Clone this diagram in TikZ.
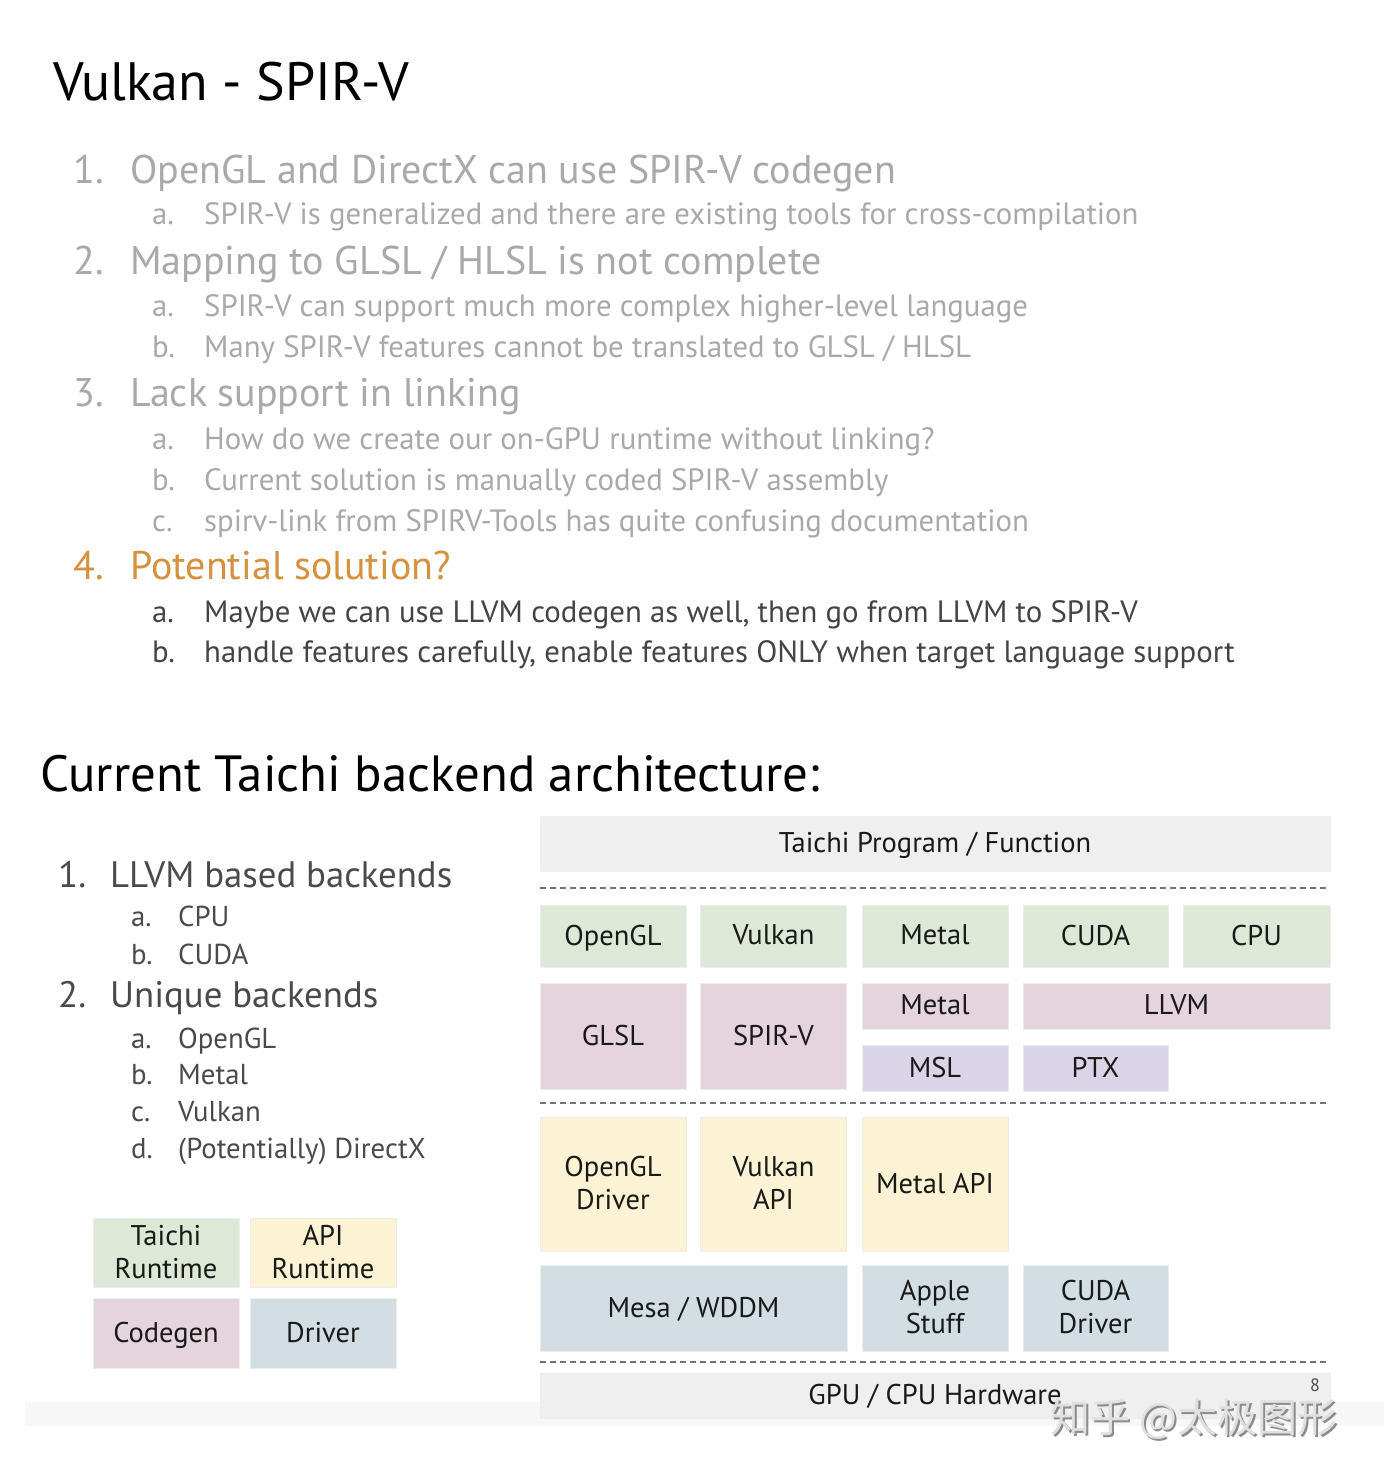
\documentclass[tikz,border=0pt]{standalone}
\usepackage{fontspec}
\setmainfont{PT Sans}
\newfontfamily\cjkfont{Noto Sans CJK SC}
\definecolor{cGray}{HTML}{A9A9A9}
\definecolor{cOrange}{HTML}{D6913E}
\definecolor{cDark}{HTML}{444444}
\definecolor{cLeft}{HTML}{4A4A4A}
\definecolor{cGreen}{HTML}{DDE8D6}
\definecolor{cPink}{HTML}{E6D4DD}
\definecolor{cLav}{HTML}{D9D4E7}
\definecolor{cYellow}{HTML}{FCF3D4}
\definecolor{cBlue}{HTML}{D3DEE3}
\definecolor{cLight}{HTML}{EFEFEF}
\begin{document}
\begin{tikzpicture}[x=1pt,y=-1pt,
  txt/.style={anchor=west,inner sep=0pt,text height=0.72em,text depth=0.22em},
  item/.style={txt,font=\fontsize{40}{48}\selectfont,yshift=-10pt},
  sub/.style={txt,font=\fontsize{30.8}{36}\selectfont,yshift=-7pt},
  litem/.style={txt,font=\fontsize{36.8}{44}\selectfont,text=cLeft,yshift=-9pt},
  lsub/.style={txt,font=\fontsize{28.8}{34}\selectfont,text=cLeft,yshift=-7pt},
  blk/.style={draw=black!7,line width=1pt,inner sep=2pt,align=center,text depth=0.22em,
    font=\fontsize{28.5}{33}\selectfont,text=black!90,minimum width=146pt},
  sep/.style={draw=black!55,line width=1.4pt,dash pattern=on 6pt off 4pt}]
\useasboundingbox (0,0) rectangle (1384,1478);
\fill[white] (0,0) rectangle (1384,1478);
\fill[black!3] (25,1402) rectangle (1384,1426);
% titles
\node[txt,font=\fontsize{54}{60}\selectfont,yshift=-16pt] (title1) at (53,82) {Vulkan - SPIR-V};
% list 1-3 (gray)
\node[item,text=cGray] (n1) at (73,171) {1.};
\node[item,text=cGray] (t1) at (130,171) {OpenGL and DirectX can use SPIR-V codegen};
\node[sub,text=cGray] (n1a) at (152,215) {a.};
\node[sub,text=cGray] (t1a) at (204,215) {SPIR-V is generalized and there are existing tools for cross-compilation};
\node[item,text=cGray] (n2) at (73,262) {2.};
\node[item,text=cGray] (t2) at (130,262) {Mapping to GLSL / HLSL is not complete};
\node[sub,text=cGray] (n2a) at (152,307) {a.};
\node[sub,text=cGray] (t2a) at (204,307) {SPIR-V can support much more complex higher-level language};
\node[sub,text=cGray] (n2b) at (152,348) {b.};
\node[sub,text=cGray] (t2b) at (204,348) {Many SPIR-V features cannot be translated to GLSL / HLSL};
\node[item,text=cGray] (n3) at (73,394) {3.};
\node[item,text=cGray] (t3) at (130,394) {Lack support in linking};
\node[sub,text=cGray] (n3a) at (152,440) {a.};
\node[sub,text=cGray] (t3a) at (204,440) {How do we create our on-GPU runtime without linking?};
\node[sub,text=cGray] (n3b) at (152,481) {b.};
\node[sub,text=cGray] (t3b) at (204,481) {Current solution is manually coded SPIR-V assembly};
\node[sub,text=cGray] (n3c) at (152,522) {c.};
\node[sub,text=cGray] (t3c) at (204,522) {spirv-link from SPIRV-Tools has quite confusing documentation};
\node[item,text=cOrange] (n4) at (73,567) {4.};
\node[item,text=cOrange] (t4) at (130,567) {Potential solution?};
\node[sub,text=cDark] (n4a) at (152,613) {a.};
\node[sub,text=cDark] (t4a) at (204,613) {Maybe we can use LLVM codegen as well, then go from LLVM to SPIR-V};
\node[sub,text=cDark] (n4b) at (152,653) {b.};
\node[sub,text=cDark] (t4b) at (204,653) {handle features carefully, enable features ONLY when target language support};
% second title
\node[txt,font=\fontsize{50.9}{58}\selectfont,yshift=-13pt] (title2) at (40,776) {Current Taichi backend architecture:};
% left list
\node[litem] (l1) at (58,876) {1.};
\node[litem] (l1t) at (110,876) {LLVM based backends};
\node[lsub] (l1a) at (131,917) {a.};
\node[lsub] (l1at) at (178,917) {CPU};
\node[lsub] (l1b) at (131,955) {b.};
\node[lsub] (l1bt) at (178,955) {CUDA};
\node[litem] (l2) at (58,996) {2.};
\node[litem] (l2t) at (110,996) {Unique backends};
\node[lsub] (l2a) at (131,1039) {a.};
\node[lsub] (l2at) at (178,1039) {OpenGL};
\node[lsub] (l2b) at (131,1075) {b.};
\node[lsub] (l2bt) at (178,1075) {Metal};
\node[lsub] (l2c) at (131,1112) {c.};
\node[lsub] (l2ct) at (178,1112) {Vulkan};
\node[lsub] (l2d) at (131,1149) {d.};
\node[lsub] (l2dt) at (178,1149) {(Potentially) DirectX};
% legend
\node[blk,fill=cGreen,minimum height=69pt] (lgTR) at (166,1252.5) {Taichi\\Runtime};
\node[blk,fill=cYellow,minimum height=69pt] (lgAR) at (323,1252.5) {API\\Runtime};
\node[blk,fill=cPink,minimum height=70pt] (lgCG) at (166,1333) {Codegen};
\node[blk,fill=cBlue,minimum height=70pt] (lgDR) at (323,1333) {Driver};
% architecture diagram
\node[blk,fill=cLight,minimum width=790pt,minimum height=55pt] (prog) at (935,843.5) {Taichi Program / Function};
\coordinate (s1a) at (540,888); \coordinate (s1b) at (1327,888);
\draw[sep] (s1a) -- (s1b);
\node[blk,fill=cGreen,minimum height=62pt] (fOGL) at (613,936) {OpenGL};
\node[blk,fill=cGreen,minimum height=62pt] (fVK) at (773.5,936) {Vulkan};
\node[blk,fill=cGreen,minimum height=62pt] (fMT) at (935,936) {Metal};
\node[blk,fill=cGreen,minimum height=62pt,minimum width=145pt] (fCU) at (1095.5,936) {CUDA};
\node[blk,fill=cGreen,minimum height=62pt,minimum width=147pt] (fCPU) at (1256.5,936) {CPU};
\node[blk,fill=cPink,minimum height=106pt] (cGLSL) at (613,1036) {GLSL};
\node[blk,fill=cPink,minimum height=106pt] (cSPV) at (773.5,1036) {SPIR-V};
\node[blk,fill=cPink,minimum height=46pt] (cMT) at (935,1006) {Metal};
\node[blk,fill=cPink,minimum height=46pt,minimum width=307pt] (cLLVM) at (1176.5,1006) {LLVM};
\node[blk,fill=cLav,minimum height=46pt] (cMSL) at (935,1068) {MSL};
\node[blk,fill=cLav,minimum height=46pt,minimum width=145pt] (cPTX) at (1095.5,1068) {PTX};
\coordinate (s2a) at (540,1103); \coordinate (s2b) at (1327,1103);
\draw[sep] (s2a) -- (s2b);
\node[blk,fill=cYellow,minimum height=134pt] (aOGL) at (613,1184) {OpenGL\\Driver};
\node[blk,fill=cYellow,minimum height=134pt] (aVK) at (773.5,1184) {Vulkan\\API};
\node[blk,fill=cYellow,minimum height=134pt] (aMT) at (935,1184) {Metal API};
\node[blk,fill=cBlue,minimum height=86pt,minimum width=307pt] (dMesa) at (693.5,1308) {Mesa / WDDM};
\node[blk,fill=cBlue,minimum height=86pt] (dApple) at (935,1308) {Apple\\Stuff};
\node[blk,fill=cBlue,minimum height=86pt,minimum width=145pt] (dCUDA) at (1095.5,1308) {CUDA\\Driver};
\coordinate (s3a) at (540,1362); \coordinate (s3b) at (1327,1362);
\draw[sep] (s3a) -- (s3b);
\node[blk,fill=cLight,minimum width=790pt,minimum height=45pt] (hw) at (935,1395.5) {GPU / CPU Hardware};
\node[txt,font=\fontsize{18}{20}\selectfont,text=black!70] (pg) at (1310,1389) {8};
% watermark
\node[txt,font=\cjkfont\fontsize{40}{46}\selectfont,text=black!45] (wm2) at (1052,1432) {知乎 @太极图形};
\node[txt,font=\cjkfont\fontsize{40}{46}\selectfont,text=black!12] (wm) at (1050,1430) {知乎 @太极图形};
\end{tikzpicture}
\end{document}
